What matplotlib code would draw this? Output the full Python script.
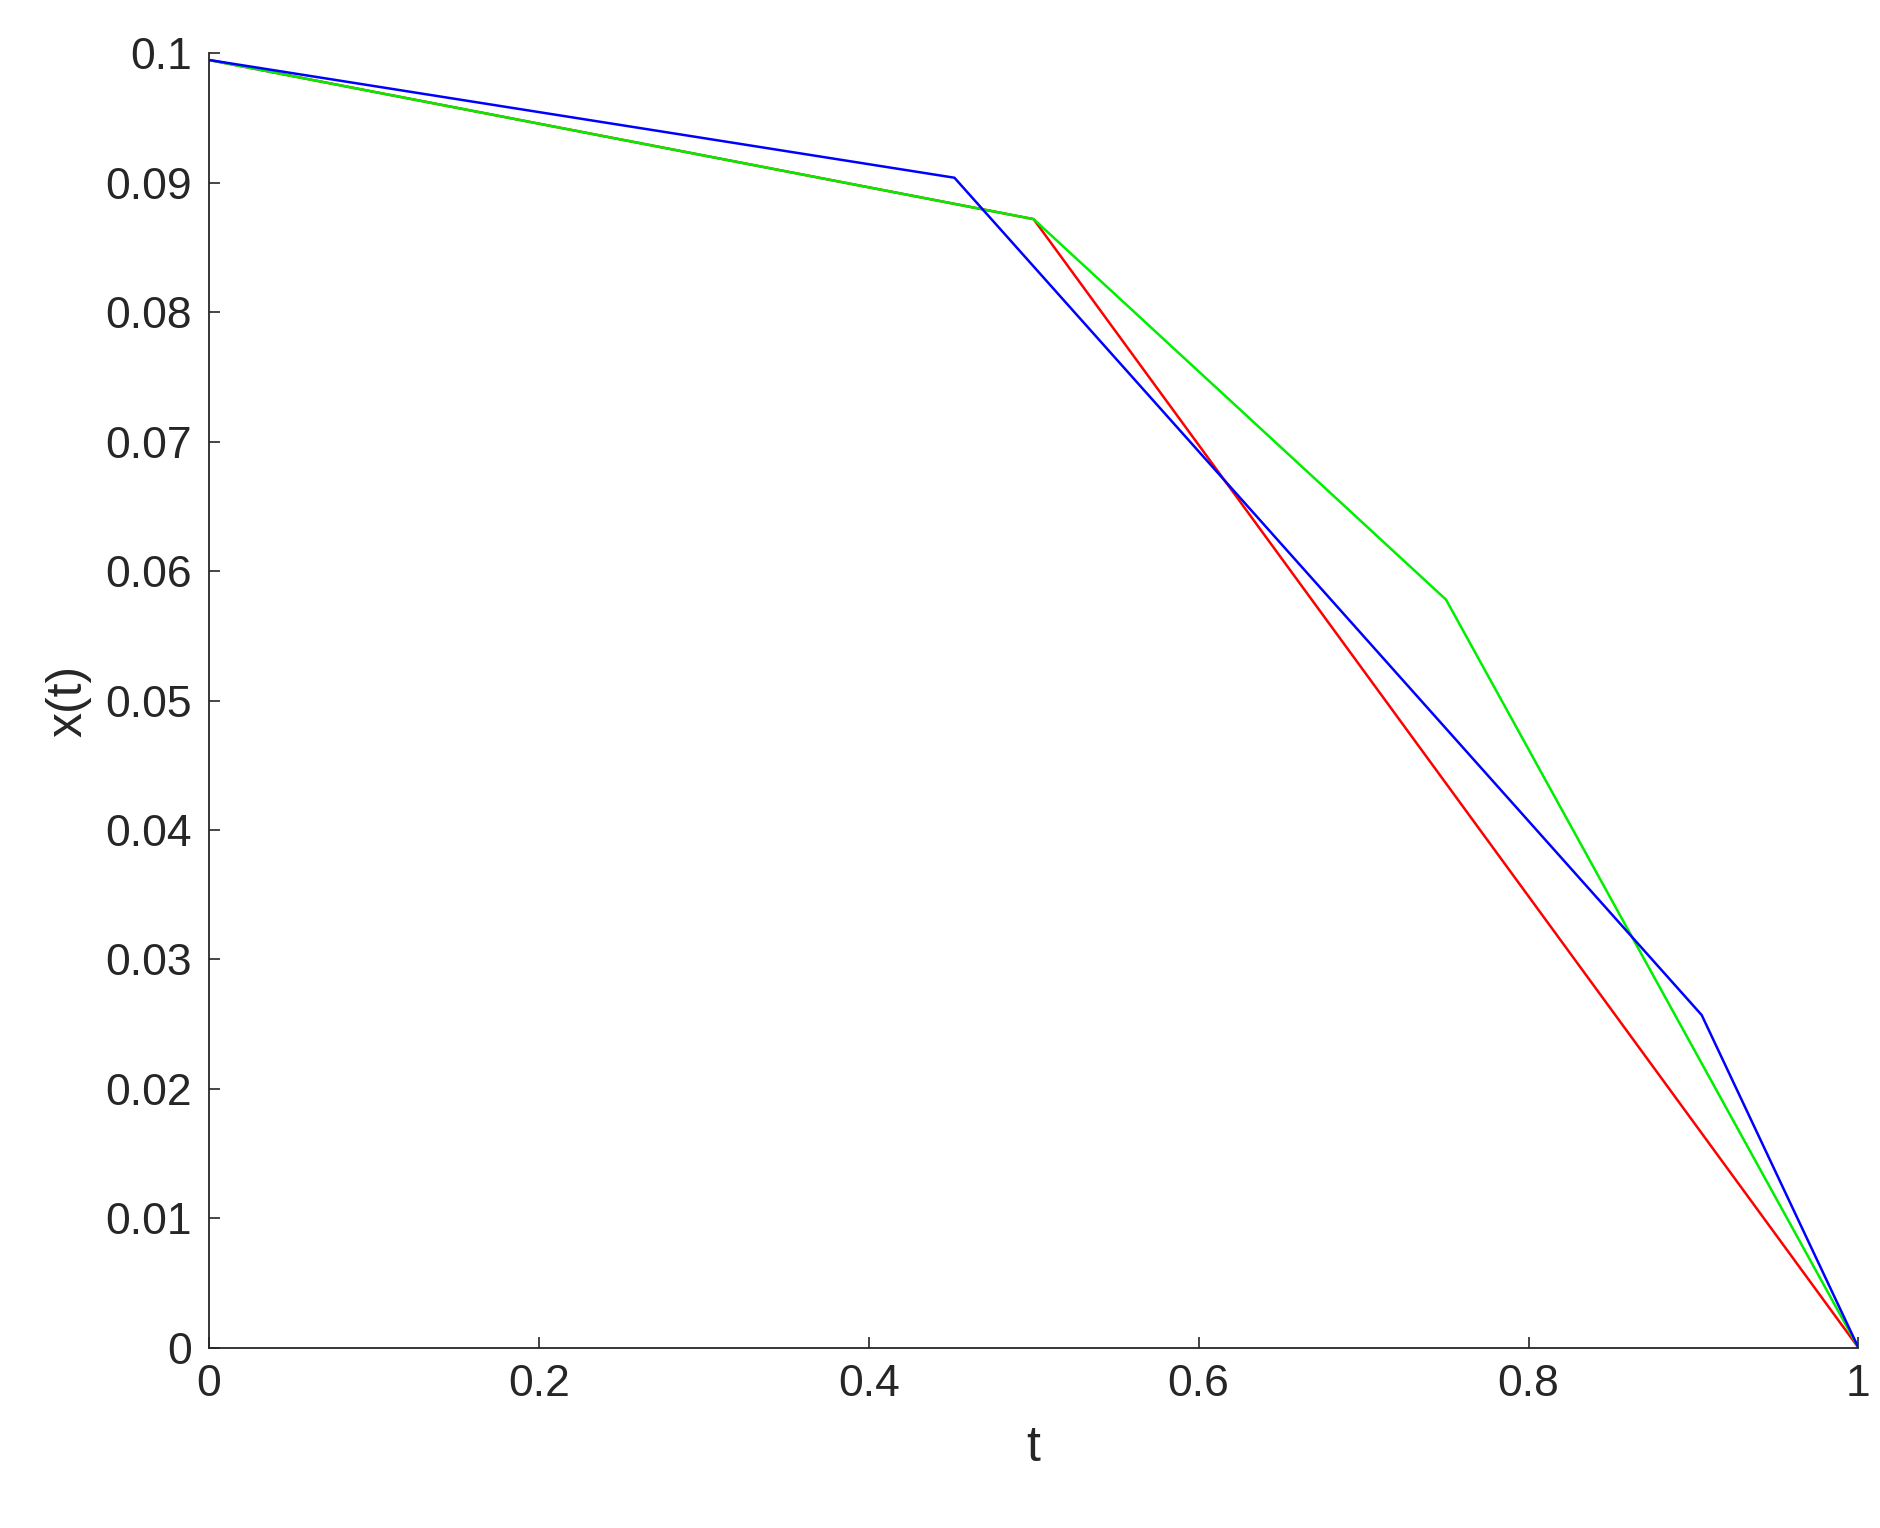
import matplotlib.pyplot as plt

# piecewise-linear trajectories
t_red = [0.0, 0.5, 1.0]
x_red = [0.0995, 0.0872, 0.0]

t_green = [0.0, 0.5, 0.75, 1.0]
x_green = [0.0995, 0.0872, 0.0578, 0.0]

t_blue = [0.0, 0.452, 0.905, 1.0]
x_blue = [0.0995, 0.0904, 0.0257, 0.0]

plt.rcParams['font.family'] = ['Liberation Sans', 'DejaVu Sans']

fig = plt.figure(figsize=(18.81, 15.28), dpi=100, facecolor="white")
ax = fig.add_axes([0.111, 0.118, 0.877, 0.847])

ax.plot(t_red, x_red, color="#ff0000", linewidth=1.8)
ax.plot(t_green, x_green, color="#00ee00", linewidth=1.8)
ax.plot(t_blue, x_blue, color="#0000ff", linewidth=1.8)

ax.set_xlim(0, 1)
ax.set_ylim(0, 0.1)
ax.set_xticks([0, 0.2, 0.4, 0.6, 0.8, 1])
ax.set_xticklabels(["0", "0.2", "0.4", "0.6", "0.8", "1"])
ax.set_yticks([i / 100 for i in range(11)])
ax.set_yticklabels(["0"] + [f"{i/100:.2f}" for i in range(1, 10)] + ["0.1"])

for s in ("top", "right"):
    ax.spines[s].set_visible(False)
for s in ("left", "bottom"):
    ax.spines[s].set_color("#262626")
    ax.spines[s].set_linewidth(1.3)
ax.tick_params(direction="in", length=8, width=1.2, colors="#262626",
               labelsize=32, pad=12)

ax.set_xlabel("t", fontsize=36, color="#262626", labelpad=14)
ax.set_ylabel("x(t)", fontsize=36, color="#262626", labelpad=10)

fig.savefig("out.png", dpi=100, facecolor="white")
